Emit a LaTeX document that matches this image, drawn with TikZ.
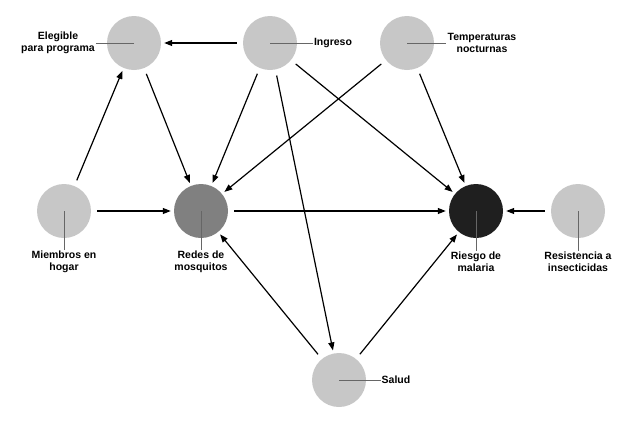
\documentclass[tikz,border=0pt]{standalone}
\usepackage{fontspec}
\setmainfont{Liberation Sans}
\usetikzlibrary{arrows.meta}
\begin{document}
\begin{tikzpicture}[x=1pt,y=-1pt,
  var/.style={circle,minimum size=54pt,inner sep=0pt,fill=black!22},
  lab/.style={font=\bfseries\fontsize{10.5}{12}\selectfont,align=center,inner sep=1pt},
  tick/.style={draw=black!60,line width=0.5pt},
  edge/.style={-{Triangle[length=8pt,width=6pt]},line width=1.2pt,shorten <=6pt,shorten >=3pt}]
\useasboundingbox (0,0) rectangle (640,426);
\node[var] (el) at (134,43) {};
\node[var] (in) at (270,43) {};
\node[var] (te) at (407,43) {};
\node[var] (mi) at (64,211) {};
\node[var,fill=black!50] (re) at (201,211) {};
\node[var,fill=black!88] (ri) at (476,211) {};
\node[var] (rs) at (578,211) {};
\node[var] (sa) at (339,380) {};
\node[lab] (lel) at (58,43) {Elegible\\para programa};
\node[lab] (lin) at (333,43) {Ingreso};
\node[lab] (lte) at (482,43) {Temperaturas\\nocturnas};
\node[lab] (lmi) at (64,262) {Miembros en\\hogar};
\node[lab] (lre) at (201,262) {Redes de\\mosquitos};
\node[lab] (lri) at (476,262) {Riesgo de\\malaria};
\node[lab] (lrs) at (578,262) {Resistencia a\\insecticidas};
\node[lab] (lsa) at (396,380) {Salud};
\draw[tick] (el.center) -- (lel.east);
\draw[tick] (in.center) -- (lin.west);
\draw[tick] (te.center) -- (lte.west);
\draw[tick] (mi.center) -- (lmi.north);
\draw[tick] (re.center) -- (lre.north);
\draw[tick] (ri.center) -- (lri.north);
\draw[tick] (rs.center) -- (lrs.north);
\draw[tick] (sa.center) -- (lsa.west);
\draw[edge] (in) -- (el);
\draw[edge] (mi) -- (el);
\draw[edge] (el) -- (re);
\draw[edge] (in) -- (re);
\draw[edge] (te) -- (re);
\draw[edge] (mi) -- (re);
\draw[edge] (re) -- (ri);
\draw[edge] (in) -- (ri);
\draw[edge] (te) -- (ri);
\draw[edge] (rs) -- (ri);
\draw[edge] (in) -- (sa);
\draw[edge] (sa) -- (re);
\draw[edge] (sa) -- (ri);
\end{tikzpicture}
\end{document}
